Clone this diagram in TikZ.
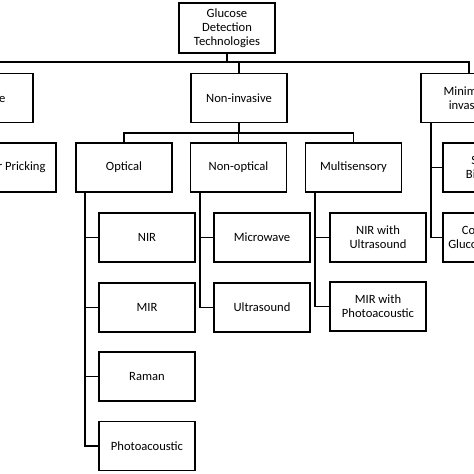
\documentclass[tikz,border=0pt]{standalone}
\usepackage{fontspec}
\setmainfont{Carlito}
\begin{document}
\begin{tikzpicture}[x=1pt,y=-1pt,
  box/.style={draw=black, line width=1.9pt, fill=white, minimum width=96pt, minimum height=49pt,
    inner sep=1pt, align=center, font=\fontsize{12.6}{14}\selectfont},
  conn/.style={draw=black, line width=1.9pt}]
\useasboundingbox (0,0) rectangle (474,474);
\clip (0,0) rectangle (474,474);
\fill[white] (0,0) rectangle (474,474);
% level 0
\node[box, minimum height=50pt] (top) at (227,28) {Glucose\\Detection\\Technologies};
% level 1
\node[box] (inv) at (-15,98) {Invasive};
\node[box] (noninv) at (239,98) {Non-invasive};
\node[box] (minim) at (469,98) {Minimally\\invasive};
% level 2
\node[box] (finger) at (8,167.5) {Finger Pricking};
\node[box] (optical) at (124,167.5) {Optical};
\node[box] (nonopt) at (238.5,167.5) {Non-optical};
\node[box] (multi) at (353.5,167.5) {Multisensory};
\node[box] (sweat) at (491,167.5) {Salivary\\Biosensor};
% level 3
\node[box] (nir) at (147,237.5) {NIR};
\node[box] (mir) at (147,307.5) {MIR};
\node[box] (raman) at (147,376.5) {Raman};
\node[box] (photo) at (147,446) {Photoacoustic};
\node[box] (micro) at (262,237.5) {Microwave};
\node[box] (ultra) at (262,307.5) {Ultrasound};
\node[box] (niru) at (378,237.5) {NIR with\\Ultrasound};
\node[box] (mirp) at (378,306.5) {MIR with\\Photoacoustic};
\node[box] (cgm) at (491,237.5) {Continuous\\Glucose Monitor};
% connectors level 0 -> 1
\coordinate (b1) at (0,62);
\draw[conn] (top.south) -- (top.south |- b1);
\draw[conn] (inv.north) |- (minim.north |- b1) -- (minim.north);
\draw[conn] (noninv.north) -- (noninv.north |- b1);
% non-invasive -> level 2
\coordinate (b2) at (0,133);
\draw[conn] (noninv.south) -- (noninv.south |- b2);
\draw[conn] (optical.north) |- (multi.north |- b2) -- (multi.north);
\draw[conn] (nonopt.north) -- (nonopt.north |- b2);
% spines
\coordinate (sinv) at ([xshift=10pt]inv.south west);
\draw[conn] (sinv) |- (finger.west);
\coordinate (sopt) at ([xshift=10pt]optical.south west);
\draw[conn] (sopt) |- (photo.west);
\draw[conn] (sopt |- nir.west) -- (nir.west);
\draw[conn] (sopt |- mir.west) -- (mir.west);
\draw[conn] (sopt |- raman.west) -- (raman.west);
\coordinate (snon) at ([xshift=10pt]nonopt.south west);
\draw[conn] (snon) |- (ultra.west);
\draw[conn] (snon |- micro.west) -- (micro.west);
\coordinate (smul) at ([xshift=10pt]multi.south west);
\draw[conn] (smul) |- (mirp.west);
\draw[conn] (smul |- niru.west) -- (niru.west);
\coordinate (smin) at ([xshift=11pt]minim.south west);
\draw[conn] (smin) |- (cgm.west);
\draw[conn] (smin |- sweat.west) -- (sweat.west);
\end{tikzpicture}
\end{document}
